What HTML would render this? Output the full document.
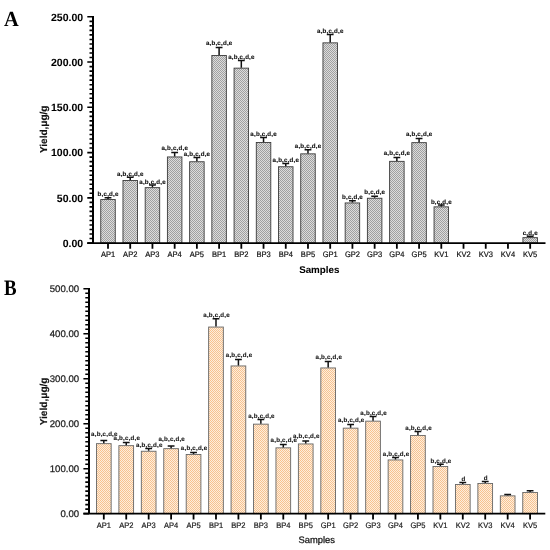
<!DOCTYPE html><html><head><meta charset="utf-8"><title>Yield chart</title><style>html,body{margin:0;padding:0;background:#fff;}svg{display:block;}text{font-family:"Liberation Sans",Arial,sans-serif;text-rendering:geometricPrecision;}.ser{font-family:"Liberation Serif","Times New Roman",serif;font-weight:bold;}</style></head><body>
<svg width="550" height="550" viewBox="0 0 550 550">
<defs><pattern id="pa" width="2" height="2" patternUnits="userSpaceOnUse"><rect width="2" height="2" fill="#dcdcdc"/><rect width="1" height="1" fill="#a0a0a0"/><rect x="1" y="1" width="1" height="1" fill="#a0a0a0"/></pattern><pattern id="pb" width="2" height="2" patternUnits="userSpaceOnUse"><rect width="2" height="2" fill="#fdeedd"/><rect width="1" height="1" fill="#f7c290"/><rect x="1" y="1" width="1" height="1" fill="#f7c290"/></pattern></defs>
<rect width="550" height="550" fill="#fff"/>
<g><rect x="100.75" y="199.55" width="14.5" height="43.55" fill="url(#pa)" stroke="#3a3a3a" stroke-width="0.9"/><path d="M108 199.1V197.7M104.6 197.7H111.4" stroke="#111" stroke-width="1.5" fill="none"/><text x="108.1" y="196.4" font-size="6.2" letter-spacing="0.2" font-weight="bold" text-anchor="middle" fill="#111" stroke="#111" stroke-width="0.12">b,c,d,e</text><rect x="122.97" y="180.45" width="14.5" height="62.65" fill="url(#pa)" stroke="#3a3a3a" stroke-width="0.9"/><path d="M130.22 180V177.3M126.82 177.3H133.62" stroke="#111" stroke-width="1.5" fill="none"/><text x="130.32" y="175.7" font-size="6.2" letter-spacing="0.2" font-weight="bold" text-anchor="middle" fill="#111" stroke="#111" stroke-width="0.12">a,b,c,d,e</text><rect x="145.19" y="187.65" width="14.5" height="55.45" fill="url(#pa)" stroke="#3a3a3a" stroke-width="0.9"/><path d="M152.44 187.2V185M149.04 185H155.84" stroke="#111" stroke-width="1.5" fill="none"/><text x="152.54" y="183.8" font-size="6.2" letter-spacing="0.2" font-weight="bold" text-anchor="middle" fill="#111" stroke="#111" stroke-width="0.12">a,b,c,d,e</text><rect x="167.41" y="156.95" width="14.5" height="86.15" fill="url(#pa)" stroke="#3a3a3a" stroke-width="0.9"/><path d="M174.66 156.5V152.6M171.26 152.6H178.06" stroke="#111" stroke-width="1.5" fill="none"/><text x="174.76" y="150.3" font-size="6.2" letter-spacing="0.2" font-weight="bold" text-anchor="middle" fill="#111" stroke="#111" stroke-width="0.12">a,b,c,d,e</text><rect x="189.63" y="161.75" width="14.5" height="81.35" fill="url(#pa)" stroke="#3a3a3a" stroke-width="0.9"/><path d="M196.88 161.3V157.4M193.48 157.4H200.28" stroke="#111" stroke-width="1.5" fill="none"/><text x="196.98" y="155.8" font-size="6.2" letter-spacing="0.2" font-weight="bold" text-anchor="middle" fill="#111" stroke="#111" stroke-width="0.12">a,b,c,d,e</text><rect x="211.85" y="55.45" width="14.5" height="187.65" fill="url(#pa)" stroke="#3a3a3a" stroke-width="0.9"/><path d="M219.1 55V47.5M215.7 47.5H222.5" stroke="#111" stroke-width="1.5" fill="none"/><text x="219.2" y="45.4" font-size="6.2" letter-spacing="0.2" font-weight="bold" text-anchor="middle" fill="#111" stroke="#111" stroke-width="0.12">a,b,c,d,e</text><rect x="234.07" y="68.15" width="14.5" height="174.95" fill="url(#pa)" stroke="#3a3a3a" stroke-width="0.9"/><path d="M241.32 67.7V60.6M237.92 60.6H244.72" stroke="#111" stroke-width="1.5" fill="none"/><text x="241.42" y="58.5" font-size="6.2" letter-spacing="0.2" font-weight="bold" text-anchor="middle" fill="#111" stroke="#111" stroke-width="0.12">a,b,c,d,e</text><rect x="256.29" y="142.45" width="14.5" height="100.65" fill="url(#pa)" stroke="#3a3a3a" stroke-width="0.9"/><path d="M263.54 142V137.5M260.14 137.5H266.94" stroke="#111" stroke-width="1.5" fill="none"/><text x="263.64" y="135.8" font-size="6.2" letter-spacing="0.2" font-weight="bold" text-anchor="middle" fill="#111" stroke="#111" stroke-width="0.12">a,b,c,d,e</text><rect x="278.51" y="166.75" width="14.5" height="76.35" fill="url(#pa)" stroke="#3a3a3a" stroke-width="0.9"/><path d="M285.76 166.3V163.5M282.36 163.5H289.16" stroke="#111" stroke-width="1.5" fill="none"/><text x="285.86" y="161.6" font-size="6.2" letter-spacing="0.2" font-weight="bold" text-anchor="middle" fill="#111" stroke="#111" stroke-width="0.12">a,b,c,d,e</text><rect x="300.73" y="153.85" width="14.5" height="89.25" fill="url(#pa)" stroke="#3a3a3a" stroke-width="0.9"/><path d="M307.98 153.4V149.7M304.58 149.7H311.38" stroke="#111" stroke-width="1.5" fill="none"/><text x="308.08" y="147.9" font-size="6.2" letter-spacing="0.2" font-weight="bold" text-anchor="middle" fill="#111" stroke="#111" stroke-width="0.12">a,b,c,d,e</text><rect x="322.95" y="42.85" width="14.5" height="200.25" fill="url(#pa)" stroke="#3a3a3a" stroke-width="0.9"/><path d="M330.2 42.4V34.4M326.8 34.4H333.6" stroke="#111" stroke-width="1.5" fill="none"/><text x="330.3" y="32.6" font-size="6.2" letter-spacing="0.2" font-weight="bold" text-anchor="middle" fill="#111" stroke="#111" stroke-width="0.12">a,b,c,d,e</text><rect x="345.17" y="202.95" width="14.5" height="40.15" fill="url(#pa)" stroke="#3a3a3a" stroke-width="0.9"/><path d="M352.42 202.5V200.8M349.02 200.8H355.82" stroke="#111" stroke-width="1.5" fill="none"/><text x="352.52" y="198.8" font-size="6.2" letter-spacing="0.2" font-weight="bold" text-anchor="middle" fill="#111" stroke="#111" stroke-width="0.12">b,c,d,e</text><rect x="367.39" y="198.25" width="14.5" height="44.85" fill="url(#pa)" stroke="#3a3a3a" stroke-width="0.9"/><path d="M374.64 197.8V196.3M371.24 196.3H378.04" stroke="#111" stroke-width="1.5" fill="none"/><text x="374.74" y="194.3" font-size="6.2" letter-spacing="0.2" font-weight="bold" text-anchor="middle" fill="#111" stroke="#111" stroke-width="0.12">b,c,d,e</text><rect x="389.61" y="161.35" width="14.5" height="81.75" fill="url(#pa)" stroke="#3a3a3a" stroke-width="0.9"/><path d="M396.86 160.9V157.4M393.46 157.4H400.26" stroke="#111" stroke-width="1.5" fill="none"/><text x="396.96" y="155.3" font-size="6.2" letter-spacing="0.2" font-weight="bold" text-anchor="middle" fill="#111" stroke="#111" stroke-width="0.12">a,b,c,d,e</text><rect x="411.83" y="142.65" width="14.5" height="100.45" fill="url(#pa)" stroke="#3a3a3a" stroke-width="0.9"/><path d="M419.08 142.2V138.4M415.68 138.4H422.48" stroke="#111" stroke-width="1.5" fill="none"/><text x="419.18" y="135.8" font-size="6.2" letter-spacing="0.2" font-weight="bold" text-anchor="middle" fill="#111" stroke="#111" stroke-width="0.12">a,b,c,d,e</text><rect x="434.05" y="206.85" width="14.5" height="36.25" fill="url(#pa)" stroke="#3a3a3a" stroke-width="0.9"/><path d="M441.3 206.4V205M437.9 205H444.7" stroke="#111" stroke-width="1.5" fill="none"/><text x="441.4" y="203.5" font-size="6.2" letter-spacing="0.2" font-weight="bold" text-anchor="middle" fill="#111" stroke="#111" stroke-width="0.12">b,c,d,e</text><rect x="522.93" y="237.65" width="14.5" height="5.45" fill="url(#pa)" stroke="#3a3a3a" stroke-width="0.9"/><path d="M530.18 237.2V236.3M526.78 236.3H533.58" stroke="#111" stroke-width="1.5" fill="none"/><text x="530.28" y="235.2" font-size="6.2" letter-spacing="0.2" font-weight="bold" text-anchor="middle" fill="#111" stroke="#111" stroke-width="0.12">c,d,e</text><path d="M93 16V243.1" stroke="#000" stroke-width="2" fill="none"/><path d="M87.3 243.1H93M89.5 238.57H93M89.5 234.05H93M89.5 229.52H93M89.5 225H93M89.5 220.47H93M89.5 215.94H93M89.5 211.42H93M89.5 206.89H93M89.5 202.37H93M87.3 197.84H93M89.5 193.31H93M89.5 188.79H93M89.5 184.26H93M89.5 179.74H93M89.5 175.21H93M89.5 170.68H93M89.5 166.16H93M89.5 161.63H93M89.5 157.11H93M87.3 152.58H93M89.5 148.05H93M89.5 143.53H93M89.5 139H93M89.5 134.48H93M89.5 129.95H93M89.5 125.42H93M89.5 120.9H93M89.5 116.37H93M89.5 111.85H93M87.3 107.32H93M89.5 102.79H93M89.5 98.27H93M89.5 93.74H93M89.5 89.22H93M89.5 84.69H93M89.5 80.16H93M89.5 75.64H93M89.5 71.11H93M89.5 66.59H93M87.3 62.06H93M89.5 57.53H93M89.5 53.01H93M89.5 48.48H93M89.5 43.96H93M89.5 39.43H93M89.5 34.9H93M89.5 30.38H93M89.5 25.85H93M89.5 21.33H93M87.3 16.8H93" stroke="#000" stroke-width="1.6" fill="none"/><text x="83.1" y="246.9" font-size="10.5" font-weight="bold" text-anchor="end" fill="#000" stroke="#000" stroke-width="0.05">0.00</text><text x="83.1" y="201.64" font-size="10.5" font-weight="bold" text-anchor="end" fill="#000" stroke="#000" stroke-width="0.05">50.00</text><text x="83.1" y="156.38" font-size="10.5" font-weight="bold" text-anchor="end" fill="#000" stroke="#000" stroke-width="0.05">100.00</text><text x="83.1" y="111.12" font-size="10.5" font-weight="bold" text-anchor="end" fill="#000" stroke="#000" stroke-width="0.05">150.00</text><text x="83.1" y="65.86" font-size="10.5" font-weight="bold" text-anchor="end" fill="#000" stroke="#000" stroke-width="0.05">200.00</text><text x="83.1" y="20.6" font-size="10.5" font-weight="bold" text-anchor="end" fill="#000" stroke="#000" stroke-width="0.05">250.00</text><path d="M87.3 243.1H545.5" stroke="#000" stroke-width="1.7" fill="none"/><path d="M108 243.1V248.7M130.22 243.1V248.7M152.44 243.1V248.7M174.66 243.1V248.7M196.88 243.1V248.7M219.1 243.1V248.7M241.32 243.1V248.7M263.54 243.1V248.7M285.76 243.1V248.7M307.98 243.1V248.7M330.2 243.1V248.7M352.42 243.1V248.7M374.64 243.1V248.7M396.86 243.1V248.7M419.08 243.1V248.7M441.3 243.1V248.7M463.52 243.1V248.7M485.74 243.1V248.7M507.96 243.1V248.7M530.18 243.1V248.7" stroke="#000" stroke-width="1.8" fill="none"/><text transform="translate(108 256.9) scale(0.94 1)" font-size="8.0" text-anchor="middle" fill="#111" stroke="#111" stroke-width="0.2">AP1</text><text transform="translate(130.22 256.9) scale(0.94 1)" font-size="8.0" text-anchor="middle" fill="#111" stroke="#111" stroke-width="0.2">AP2</text><text transform="translate(152.44 256.9) scale(0.94 1)" font-size="8.0" text-anchor="middle" fill="#111" stroke="#111" stroke-width="0.2">AP3</text><text transform="translate(174.66 256.9) scale(0.94 1)" font-size="8.0" text-anchor="middle" fill="#111" stroke="#111" stroke-width="0.2">AP4</text><text transform="translate(196.88 256.9) scale(0.94 1)" font-size="8.0" text-anchor="middle" fill="#111" stroke="#111" stroke-width="0.2">AP5</text><text transform="translate(219.1 256.9) scale(0.94 1)" font-size="8.0" text-anchor="middle" fill="#111" stroke="#111" stroke-width="0.2">BP1</text><text transform="translate(241.32 256.9) scale(0.94 1)" font-size="8.0" text-anchor="middle" fill="#111" stroke="#111" stroke-width="0.2">BP2</text><text transform="translate(263.54 256.9) scale(0.94 1)" font-size="8.0" text-anchor="middle" fill="#111" stroke="#111" stroke-width="0.2">BP3</text><text transform="translate(285.76 256.9) scale(0.94 1)" font-size="8.0" text-anchor="middle" fill="#111" stroke="#111" stroke-width="0.2">BP4</text><text transform="translate(307.98 256.9) scale(0.94 1)" font-size="8.0" text-anchor="middle" fill="#111" stroke="#111" stroke-width="0.2">BP5</text><text transform="translate(330.2 256.9) scale(0.94 1)" font-size="8.0" text-anchor="middle" fill="#111" stroke="#111" stroke-width="0.2">GP1</text><text transform="translate(352.42 256.9) scale(0.94 1)" font-size="8.0" text-anchor="middle" fill="#111" stroke="#111" stroke-width="0.2">GP2</text><text transform="translate(374.64 256.9) scale(0.94 1)" font-size="8.0" text-anchor="middle" fill="#111" stroke="#111" stroke-width="0.2">GP3</text><text transform="translate(396.86 256.9) scale(0.94 1)" font-size="8.0" text-anchor="middle" fill="#111" stroke="#111" stroke-width="0.2">GP4</text><text transform="translate(419.08 256.9) scale(0.94 1)" font-size="8.0" text-anchor="middle" fill="#111" stroke="#111" stroke-width="0.2">GP5</text><text transform="translate(441.3 256.9) scale(0.94 1)" font-size="8.0" text-anchor="middle" fill="#111" stroke="#111" stroke-width="0.2">KV1</text><text transform="translate(463.52 256.9) scale(0.94 1)" font-size="8.0" text-anchor="middle" fill="#111" stroke="#111" stroke-width="0.2">KV2</text><text transform="translate(485.74 256.9) scale(0.94 1)" font-size="8.0" text-anchor="middle" fill="#111" stroke="#111" stroke-width="0.2">KV3</text><text transform="translate(507.96 256.9) scale(0.94 1)" font-size="8.0" text-anchor="middle" fill="#111" stroke="#111" stroke-width="0.2">KV4</text><text transform="translate(530.18 256.9) scale(0.94 1)" font-size="8.0" text-anchor="middle" fill="#111" stroke="#111" stroke-width="0.2">KV5</text><text x="319.3" y="272.8" font-size="9.8" font-weight="bold" text-anchor="middle" fill="#000" stroke="#000" stroke-width="0.05">Samples</text><text transform="translate(46.7 129.25) rotate(-90)" font-size="10.0" font-weight="bold" text-anchor="middle" fill="#111" stroke="#111" stroke-width="0.15">Yield,μg/g</text><text class="ser" transform="translate(4 25.6) scale(0.95 1)" font-size="21.5" fill="#000">A</text></g>
<g><rect x="96.45" y="443.65" width="14.7" height="70" fill="url(#pb)" stroke="#666" stroke-width="0.9"/><path d="M103.8 443.2V440.6M100.4 440.6H107.2" stroke="#111" stroke-width="1.5" fill="none"/><text x="104.4" y="435.5" font-size="6.2" letter-spacing="0.2" font-weight="bold" text-anchor="middle" fill="#1a1a1a" stroke="#1a1a1a" stroke-width="0.12">a,b,c,d,e</text><rect x="118.89" y="445.65" width="14.7" height="68" fill="url(#pb)" stroke="#666" stroke-width="0.9"/><path d="M126.24 445.2V442.5M122.84 442.5H129.64" stroke="#111" stroke-width="1.5" fill="none"/><text x="126.84" y="440.4" font-size="6.2" letter-spacing="0.2" font-weight="bold" text-anchor="middle" fill="#1a1a1a" stroke="#1a1a1a" stroke-width="0.12">a,b,c,d,e</text><rect x="141.32" y="451.25" width="14.7" height="62.4" fill="url(#pb)" stroke="#666" stroke-width="0.9"/><path d="M148.67 450.8V448.4M145.27 448.4H152.07" stroke="#111" stroke-width="1.5" fill="none"/><text x="149.27" y="446.5" font-size="6.2" letter-spacing="0.2" font-weight="bold" text-anchor="middle" fill="#1a1a1a" stroke="#1a1a1a" stroke-width="0.12">a,b,c,d,e</text><rect x="163.76" y="448.65" width="14.7" height="65" fill="url(#pb)" stroke="#666" stroke-width="0.9"/><path d="M171.11 448.2V445.9M167.71 445.9H174.51" stroke="#111" stroke-width="1.5" fill="none"/><text x="171.71" y="440.8" font-size="6.2" letter-spacing="0.2" font-weight="bold" text-anchor="middle" fill="#1a1a1a" stroke="#1a1a1a" stroke-width="0.12">a,b,c,d,e</text><rect x="186.2" y="454.55" width="14.7" height="59.1" fill="url(#pb)" stroke="#666" stroke-width="0.9"/><path d="M193.55 454.1V452.5M190.15 452.5H196.95" stroke="#111" stroke-width="1.5" fill="none"/><text x="194.15" y="449.8" font-size="6.2" letter-spacing="0.2" font-weight="bold" text-anchor="middle" fill="#1a1a1a" stroke="#1a1a1a" stroke-width="0.12">a,b,c,d,e</text><rect x="208.63" y="327.05" width="14.7" height="186.6" fill="url(#pb)" stroke="#666" stroke-width="0.9"/><path d="M215.99 326.6V318.7M212.59 318.7H219.39" stroke="#111" stroke-width="1.5" fill="none"/><text x="216.59" y="316.8" font-size="6.2" letter-spacing="0.2" font-weight="bold" text-anchor="middle" fill="#1a1a1a" stroke="#1a1a1a" stroke-width="0.12">a,b,c,d,e</text><rect x="231.07" y="365.95" width="14.7" height="147.7" fill="url(#pb)" stroke="#666" stroke-width="0.9"/><path d="M238.42 365.5V359.5M235.02 359.5H241.82" stroke="#111" stroke-width="1.5" fill="none"/><text x="239.02" y="356.7" font-size="6.2" letter-spacing="0.2" font-weight="bold" text-anchor="middle" fill="#1a1a1a" stroke="#1a1a1a" stroke-width="0.12">a,b,c,d,e</text><rect x="253.51" y="424.15" width="14.7" height="89.5" fill="url(#pb)" stroke="#666" stroke-width="0.9"/><path d="M260.86 423.7V419.4M257.46 419.4H264.26" stroke="#111" stroke-width="1.5" fill="none"/><text x="261.46" y="417.8" font-size="6.2" letter-spacing="0.2" font-weight="bold" text-anchor="middle" fill="#1a1a1a" stroke="#1a1a1a" stroke-width="0.12">a,b,c,d,e</text><rect x="275.95" y="447.85" width="14.7" height="65.8" fill="url(#pb)" stroke="#666" stroke-width="0.9"/><path d="M283.3 447.4V444.5M279.9 444.5H286.7" stroke="#111" stroke-width="1.5" fill="none"/><text x="283.9" y="442.1" font-size="6.2" letter-spacing="0.2" font-weight="bold" text-anchor="middle" fill="#1a1a1a" stroke="#1a1a1a" stroke-width="0.12">a,b,c,d,e</text><rect x="298.38" y="443.95" width="14.7" height="69.7" fill="url(#pb)" stroke="#666" stroke-width="0.9"/><path d="M305.73 443.5V441M302.33 441H309.13" stroke="#111" stroke-width="1.5" fill="none"/><text x="306.33" y="437.7" font-size="6.2" letter-spacing="0.2" font-weight="bold" text-anchor="middle" fill="#1a1a1a" stroke="#1a1a1a" stroke-width="0.12">a,b,c,d,e</text><rect x="320.82" y="367.95" width="14.7" height="145.7" fill="url(#pb)" stroke="#666" stroke-width="0.9"/><path d="M328.17 367.5V361.5M324.77 361.5H331.57" stroke="#111" stroke-width="1.5" fill="none"/><text x="328.77" y="358.7" font-size="6.2" letter-spacing="0.2" font-weight="bold" text-anchor="middle" fill="#1a1a1a" stroke="#1a1a1a" stroke-width="0.12">a,b,c,d,e</text><rect x="343.26" y="428.15" width="14.7" height="85.5" fill="url(#pb)" stroke="#666" stroke-width="0.9"/><path d="M350.61 427.7V424.4M347.21 424.4H354.01" stroke="#111" stroke-width="1.5" fill="none"/><text x="351.21" y="422.4" font-size="6.2" letter-spacing="0.2" font-weight="bold" text-anchor="middle" fill="#1a1a1a" stroke="#1a1a1a" stroke-width="0.12">a,b,c,d,e</text><rect x="365.69" y="421.15" width="14.7" height="92.5" fill="url(#pb)" stroke="#666" stroke-width="0.9"/><path d="M373.04 420.7V416.6M369.64 416.6H376.44" stroke="#111" stroke-width="1.5" fill="none"/><text x="373.64" y="415" font-size="6.2" letter-spacing="0.2" font-weight="bold" text-anchor="middle" fill="#1a1a1a" stroke="#1a1a1a" stroke-width="0.12">a,b,c,d,e</text><rect x="388.13" y="459.95" width="14.7" height="53.7" fill="url(#pb)" stroke="#666" stroke-width="0.9"/><path d="M395.48 459.5V457.4M392.08 457.4H398.88" stroke="#111" stroke-width="1.5" fill="none"/><text x="396.08" y="455.6" font-size="6.2" letter-spacing="0.2" font-weight="bold" text-anchor="middle" fill="#1a1a1a" stroke="#1a1a1a" stroke-width="0.12">a,b,c,d,e</text><rect x="410.57" y="435.45" width="14.7" height="78.2" fill="url(#pb)" stroke="#666" stroke-width="0.9"/><path d="M417.92 435V431.5M414.52 431.5H421.32" stroke="#111" stroke-width="1.5" fill="none"/><text x="418.52" y="429.5" font-size="6.2" letter-spacing="0.2" font-weight="bold" text-anchor="middle" fill="#1a1a1a" stroke="#1a1a1a" stroke-width="0.12">a,b,c,d,e</text><rect x="433" y="466.55" width="14.7" height="47.1" fill="url(#pb)" stroke="#666" stroke-width="0.9"/><path d="M440.36 466.1V464.3M436.96 464.3H443.75" stroke="#111" stroke-width="1.5" fill="none"/><text x="440.96" y="462.5" font-size="6.2" letter-spacing="0.2" font-weight="bold" text-anchor="middle" fill="#1a1a1a" stroke="#1a1a1a" stroke-width="0.12">b,c,d,e</text><rect x="455.44" y="484.45" width="14.7" height="29.2" fill="url(#pb)" stroke="#666" stroke-width="0.9"/><path d="M462.79 484V482.5M459.39 482.5H466.19" stroke="#111" stroke-width="1.5" fill="none"/><text x="463.39" y="480.6" font-size="6.2" letter-spacing="0.2" font-weight="bold" text-anchor="middle" fill="#1a1a1a" stroke="#1a1a1a" stroke-width="0.12">d</text><rect x="477.88" y="483.55" width="14.7" height="30.1" fill="url(#pb)" stroke="#666" stroke-width="0.9"/><path d="M485.23 483.1V481.6M481.83 481.6H488.63" stroke="#111" stroke-width="1.5" fill="none"/><text x="485.83" y="480" font-size="6.2" letter-spacing="0.2" font-weight="bold" text-anchor="middle" fill="#1a1a1a" stroke="#1a1a1a" stroke-width="0.12">d</text><rect x="500.32" y="495.85" width="14.7" height="17.8" fill="url(#pb)" stroke="#666" stroke-width="0.9"/><path d="M507.67 495.4V494.6M504.27 494.6H511.07" stroke="#111" stroke-width="1.5" fill="none"/><rect x="522.75" y="492.55" width="14.7" height="21.1" fill="url(#pb)" stroke="#666" stroke-width="0.9"/><path d="M530.1 492.1V490.7M526.7 490.7H533.5" stroke="#111" stroke-width="1.5" fill="none"/><path d="M89 288V513.65" stroke="#000" stroke-width="2" fill="none"/><path d="M83.4 513.65H89M85.3 509.15H89M85.3 504.66H89M85.3 500.16H89M85.3 495.66H89M85.3 491.16H89M85.3 486.67H89M85.3 482.17H89M85.3 477.67H89M85.3 473.18H89M83.4 468.68H89M85.3 464.18H89M85.3 459.69H89M85.3 455.19H89M85.3 450.69H89M85.3 446.19H89M85.3 441.7H89M85.3 437.2H89M85.3 432.7H89M85.3 428.21H89M83.4 423.71H89M85.3 419.21H89M85.3 414.72H89M85.3 410.22H89M85.3 405.72H89M85.3 401.22H89M85.3 396.73H89M85.3 392.23H89M85.3 387.73H89M85.3 383.24H89M83.4 378.74H89M85.3 374.24H89M85.3 369.75H89M85.3 365.25H89M85.3 360.75H89M85.3 356.25H89M85.3 351.76H89M85.3 347.26H89M85.3 342.76H89M85.3 338.27H89M83.4 333.77H89M85.3 329.27H89M85.3 324.78H89M85.3 320.28H89M85.3 315.78H89M85.3 311.28H89M85.3 306.79H89M85.3 302.29H89M85.3 297.79H89M85.3 293.3H89M83.4 288.8H89" stroke="#000" stroke-width="1.6" fill="none"/><text x="79.1" y="516.75" font-size="9.6" font-weight="normal" text-anchor="end" fill="#222" stroke="#222" stroke-width="0.25">0.00</text><text x="79.1" y="471.78" font-size="9.6" font-weight="normal" text-anchor="end" fill="#222" stroke="#222" stroke-width="0.25">100.00</text><text x="79.1" y="426.81" font-size="9.6" font-weight="normal" text-anchor="end" fill="#222" stroke="#222" stroke-width="0.25">200.00</text><text x="79.1" y="381.84" font-size="9.6" font-weight="normal" text-anchor="end" fill="#222" stroke="#222" stroke-width="0.25">300.00</text><text x="79.1" y="336.87" font-size="9.6" font-weight="normal" text-anchor="end" fill="#222" stroke="#222" stroke-width="0.25">400.00</text><text x="79.1" y="291.9" font-size="9.6" font-weight="normal" text-anchor="end" fill="#222" stroke="#222" stroke-width="0.25">500.00</text><path d="M83.4 513.65H545.3" stroke="#000" stroke-width="1.7" fill="none"/><path d="M103.8 513.65V519.4M126.24 513.65V519.4M148.67 513.65V519.4M171.11 513.65V519.4M193.55 513.65V519.4M215.99 513.65V519.4M238.42 513.65V519.4M260.86 513.65V519.4M283.3 513.65V519.4M305.73 513.65V519.4M328.17 513.65V519.4M350.61 513.65V519.4M373.04 513.65V519.4M395.48 513.65V519.4M417.92 513.65V519.4M440.36 513.65V519.4M462.79 513.65V519.4M485.23 513.65V519.4M507.67 513.65V519.4M530.1 513.65V519.4" stroke="#000" stroke-width="1.8" fill="none"/><text transform="translate(103.8 527.5) scale(0.94 1)" font-size="8.0" text-anchor="middle" fill="#1a1a1a" stroke="#1a1a1a" stroke-width="0.2">AP1</text><text transform="translate(126.24 527.5) scale(0.94 1)" font-size="8.0" text-anchor="middle" fill="#1a1a1a" stroke="#1a1a1a" stroke-width="0.2">AP2</text><text transform="translate(148.67 527.5) scale(0.94 1)" font-size="8.0" text-anchor="middle" fill="#1a1a1a" stroke="#1a1a1a" stroke-width="0.2">AP3</text><text transform="translate(171.11 527.5) scale(0.94 1)" font-size="8.0" text-anchor="middle" fill="#1a1a1a" stroke="#1a1a1a" stroke-width="0.2">AP4</text><text transform="translate(193.55 527.5) scale(0.94 1)" font-size="8.0" text-anchor="middle" fill="#1a1a1a" stroke="#1a1a1a" stroke-width="0.2">AP5</text><text transform="translate(215.99 527.5) scale(0.94 1)" font-size="8.0" text-anchor="middle" fill="#1a1a1a" stroke="#1a1a1a" stroke-width="0.2">BP1</text><text transform="translate(238.42 527.5) scale(0.94 1)" font-size="8.0" text-anchor="middle" fill="#1a1a1a" stroke="#1a1a1a" stroke-width="0.2">BP2</text><text transform="translate(260.86 527.5) scale(0.94 1)" font-size="8.0" text-anchor="middle" fill="#1a1a1a" stroke="#1a1a1a" stroke-width="0.2">BP3</text><text transform="translate(283.3 527.5) scale(0.94 1)" font-size="8.0" text-anchor="middle" fill="#1a1a1a" stroke="#1a1a1a" stroke-width="0.2">BP4</text><text transform="translate(305.73 527.5) scale(0.94 1)" font-size="8.0" text-anchor="middle" fill="#1a1a1a" stroke="#1a1a1a" stroke-width="0.2">BP5</text><text transform="translate(328.17 527.5) scale(0.94 1)" font-size="8.0" text-anchor="middle" fill="#1a1a1a" stroke="#1a1a1a" stroke-width="0.2">GP1</text><text transform="translate(350.61 527.5) scale(0.94 1)" font-size="8.0" text-anchor="middle" fill="#1a1a1a" stroke="#1a1a1a" stroke-width="0.2">GP2</text><text transform="translate(373.04 527.5) scale(0.94 1)" font-size="8.0" text-anchor="middle" fill="#1a1a1a" stroke="#1a1a1a" stroke-width="0.2">GP3</text><text transform="translate(395.48 527.5) scale(0.94 1)" font-size="8.0" text-anchor="middle" fill="#1a1a1a" stroke="#1a1a1a" stroke-width="0.2">GP4</text><text transform="translate(417.92 527.5) scale(0.94 1)" font-size="8.0" text-anchor="middle" fill="#1a1a1a" stroke="#1a1a1a" stroke-width="0.2">GP5</text><text transform="translate(440.36 527.5) scale(0.94 1)" font-size="8.0" text-anchor="middle" fill="#1a1a1a" stroke="#1a1a1a" stroke-width="0.2">KV1</text><text transform="translate(462.79 527.5) scale(0.94 1)" font-size="8.0" text-anchor="middle" fill="#1a1a1a" stroke="#1a1a1a" stroke-width="0.2">KV2</text><text transform="translate(485.23 527.5) scale(0.94 1)" font-size="8.0" text-anchor="middle" fill="#1a1a1a" stroke="#1a1a1a" stroke-width="0.2">KV3</text><text transform="translate(507.67 527.5) scale(0.94 1)" font-size="8.0" text-anchor="middle" fill="#1a1a1a" stroke="#1a1a1a" stroke-width="0.2">KV4</text><text transform="translate(530.1 527.5) scale(0.94 1)" font-size="8.0" text-anchor="middle" fill="#1a1a1a" stroke="#1a1a1a" stroke-width="0.2">KV5</text><text x="316.8" y="542.8" font-size="9.4" font-weight="normal" text-anchor="middle" fill="#111" stroke="#111" stroke-width="0.25">Samples</text><text transform="translate(46.5 401.4) rotate(-90)" font-size="10.1" font-weight="bold" text-anchor="middle" fill="#111" stroke="#111" stroke-width="0.15">Yield,μg/g</text><text class="ser" transform="translate(3.9 294.8) scale(0.86 1)" font-size="22" fill="#000">B</text></g>
</svg></body></html>
